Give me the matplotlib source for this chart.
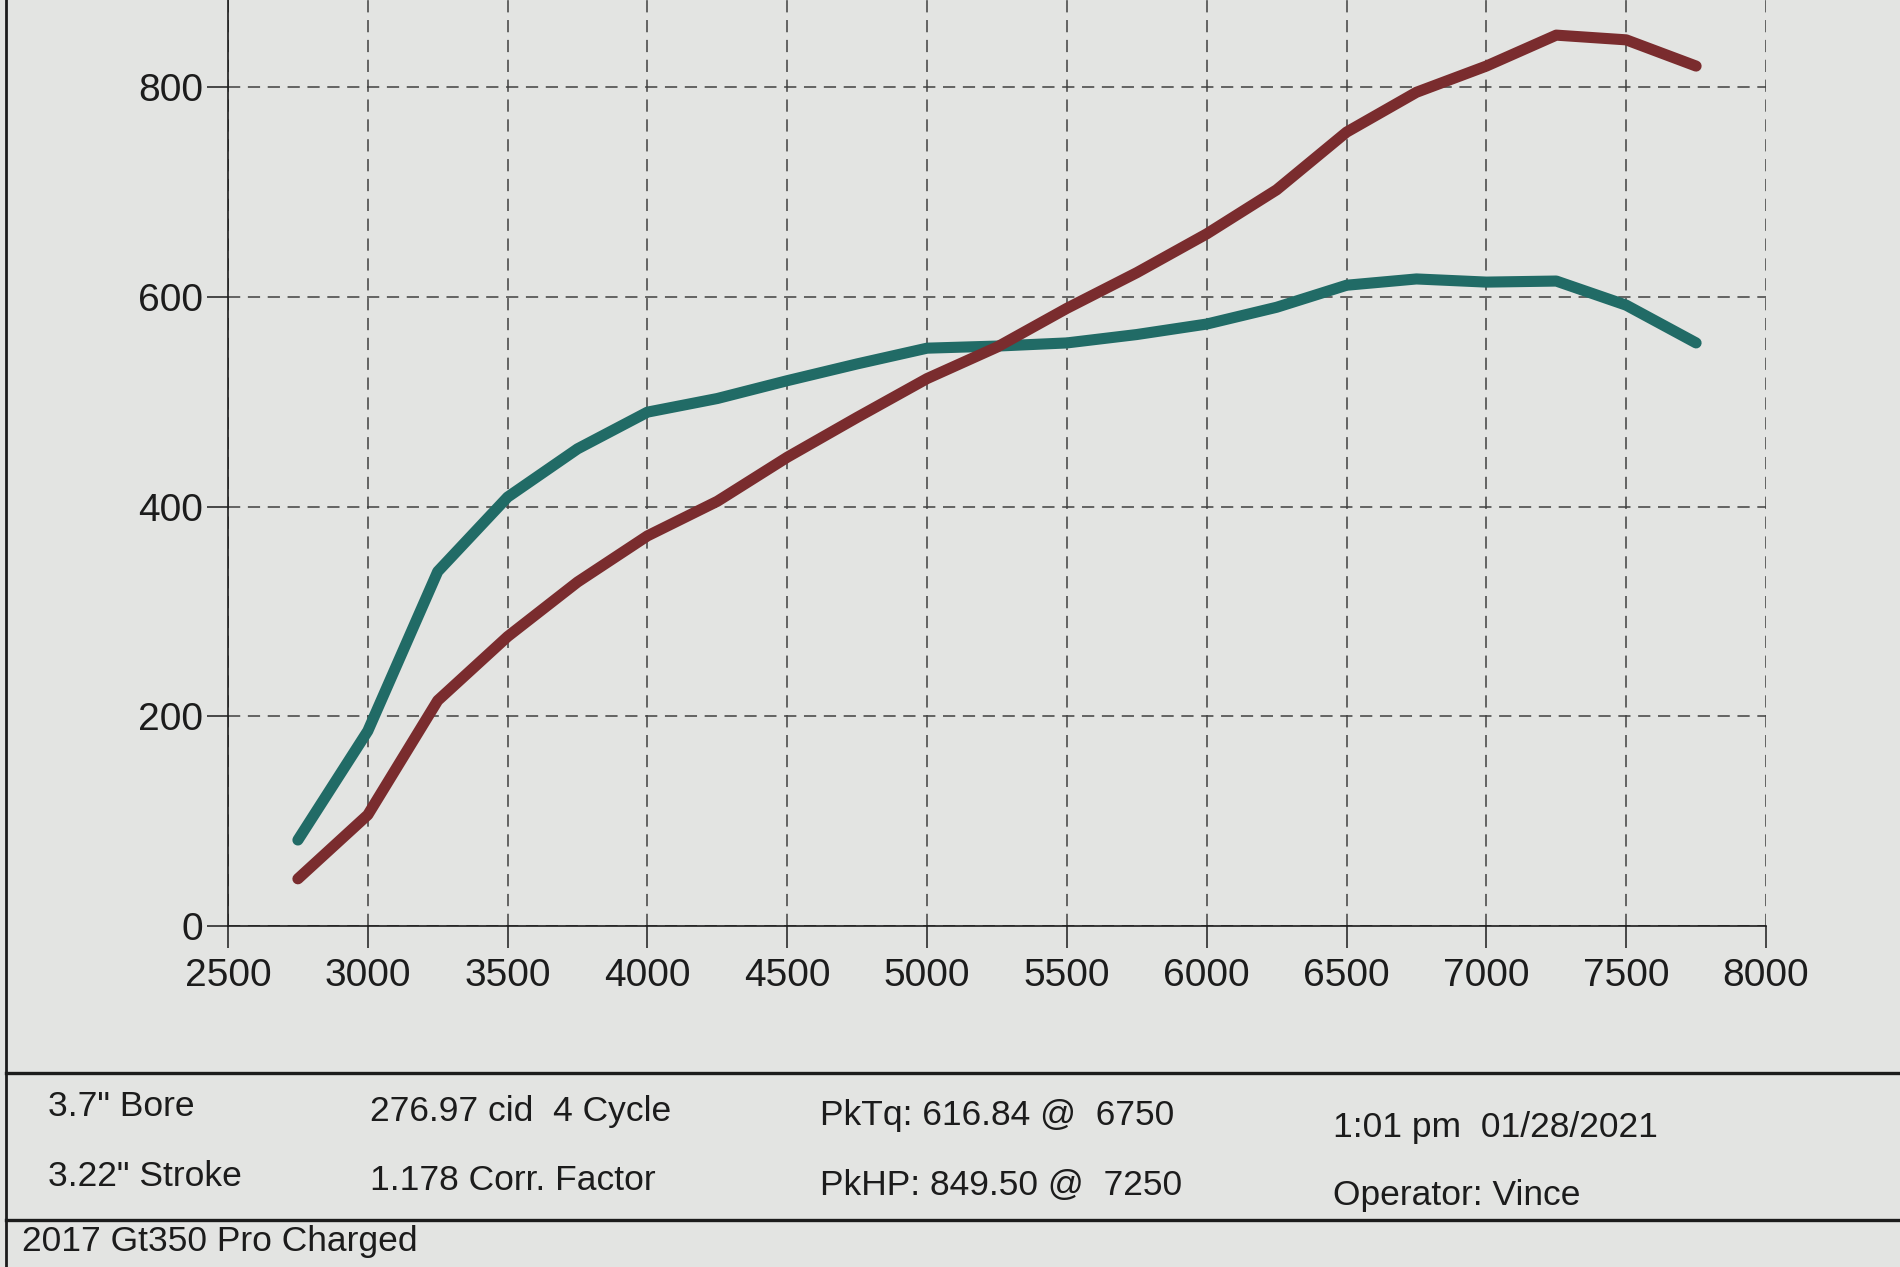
import matplotlib
matplotlib.use("Agg")
import matplotlib.pyplot as plt
from matplotlib.lines import Line2D

plt.rcParams['font.family'] = ['Liberation Sans', 'DejaVu Sans']

# ---- data ----
rpm = [2750, 3000, 3250, 3500, 3750, 4000, 4250, 4500, 4750, 5000, 5250,
       5500, 5750, 6000, 6250, 6500, 6750, 7000, 7250, 7500, 7750]
torque = [82, 186, 338, 409, 455, 490, 503, 520, 536, 551, 553,
          556, 564, 574, 590, 611, 617, 614, 615, 592, 556]
hp = [45, 106, 215, 276, 328, 372, 405, 447, 485, 522, 552,
      589, 623, 660, 702, 757, 795, 820, 849.5, 845, 820]

x_ticks = [2500, 3000, 3500, 4000, 4500, 5000, 5500, 6000, 6500, 7000, 7500, 8000]
y_ticks = [0, 200, 400, 600, 800]

info_col1 = ['3.7" Bore', '3.22" Stroke']
info_col2 = ['276.97 cid  4 Cycle', '1.178 Corr. Factor']
info_col3 = ['PkTq: 616.84 @  6750', 'PkHP: 849.50 @  7250']
info_col4 = ['1:01 pm  01/28/2021', 'Operator: Vince']
title_text = '2017 Gt350 Pro Charged'

# ---- style ----
W, H = 1900, 1267
bg = '#e3e4e2'
ink = '#1c1c1c'
grid_c = '#404040'
tq_color = '#216b66'
hp_color = '#7a2c2e'

fig = plt.figure(figsize=(W / 100, H / 100), dpi=100, facecolor=bg)

left_px, right_px, zero_px = 228, 1766, 926
ax = fig.add_axes([left_px / W, 1 - zero_px / H, (right_px - left_px) / W, zero_px / H])
ax.set_facecolor(bg)
ax.set_xlim(2500, 8000)
ax.set_ylim(0, 883)

ax.plot(rpm, torque, color=tq_color, lw=8, solid_capstyle='round',
        solid_joinstyle='round', zorder=3)
ax.plot(rpm, hp, color=hp_color, lw=8, solid_capstyle='round',
        solid_joinstyle='round', zorder=3)

ax.set_xticks(x_ticks)
ax.set_yticks(y_ticks)
ax.set_xticklabels([str(v) for v in x_ticks])
ax.set_yticklabels([str(v) for v in y_ticks])
ax.grid(True, color=grid_c, lw=1.1, linestyle=(0, (8, 5)), zorder=1)
ax.set_axisbelow(True)

for s in ['top', 'right']:
    ax.spines[s].set_visible(False)
for s in ['left', 'bottom']:
    ax.spines[s].set_color(ink)
    ax.spines[s].set_linewidth(1.2)

ax.tick_params(axis='x', direction='out', length=16, width=1.1, pad=7,
               labelsize=28, colors=ink)
ax.tick_params(axis='y', direction='out', length=15, width=1.1, pad=3,
               labelsize=28, colors=ink)

# ---- info box ----
def fy(px):
    return 1 - px / H

fig.add_artist(Line2D([0.003, 0.003], [0, 1], transform=fig.transFigure,
                      color=ink, lw=2.0))
fig.add_artist(Line2D([0.003, 1.0], [fy(1073), fy(1073)], transform=fig.transFigure,
                      color=ink, lw=2.4))
fig.add_artist(Line2D([0.003, 1.0], [fy(1220), fy(1220)], transform=fig.transFigure,
                      color=ink, lw=2.4))

cols = [(48, (1107, 1176), info_col1),
        (370, (1111, 1180), info_col2),
        (820, (1116, 1185), info_col3),
        (1333, (1127, 1196), info_col4)]
for xpx, ys, texts in cols:
    for ypx, t in zip(ys, texts):
        fig.text(xpx / W, fy(ypx), t, fontsize=25.5, color=ink,
                 ha='left', va='center')

fig.text(22 / W, fy(1241), title_text, fontsize=25.5, color=ink,
         ha='left', va='center')

fig.savefig('out.png', dpi=100, facecolor=bg)
